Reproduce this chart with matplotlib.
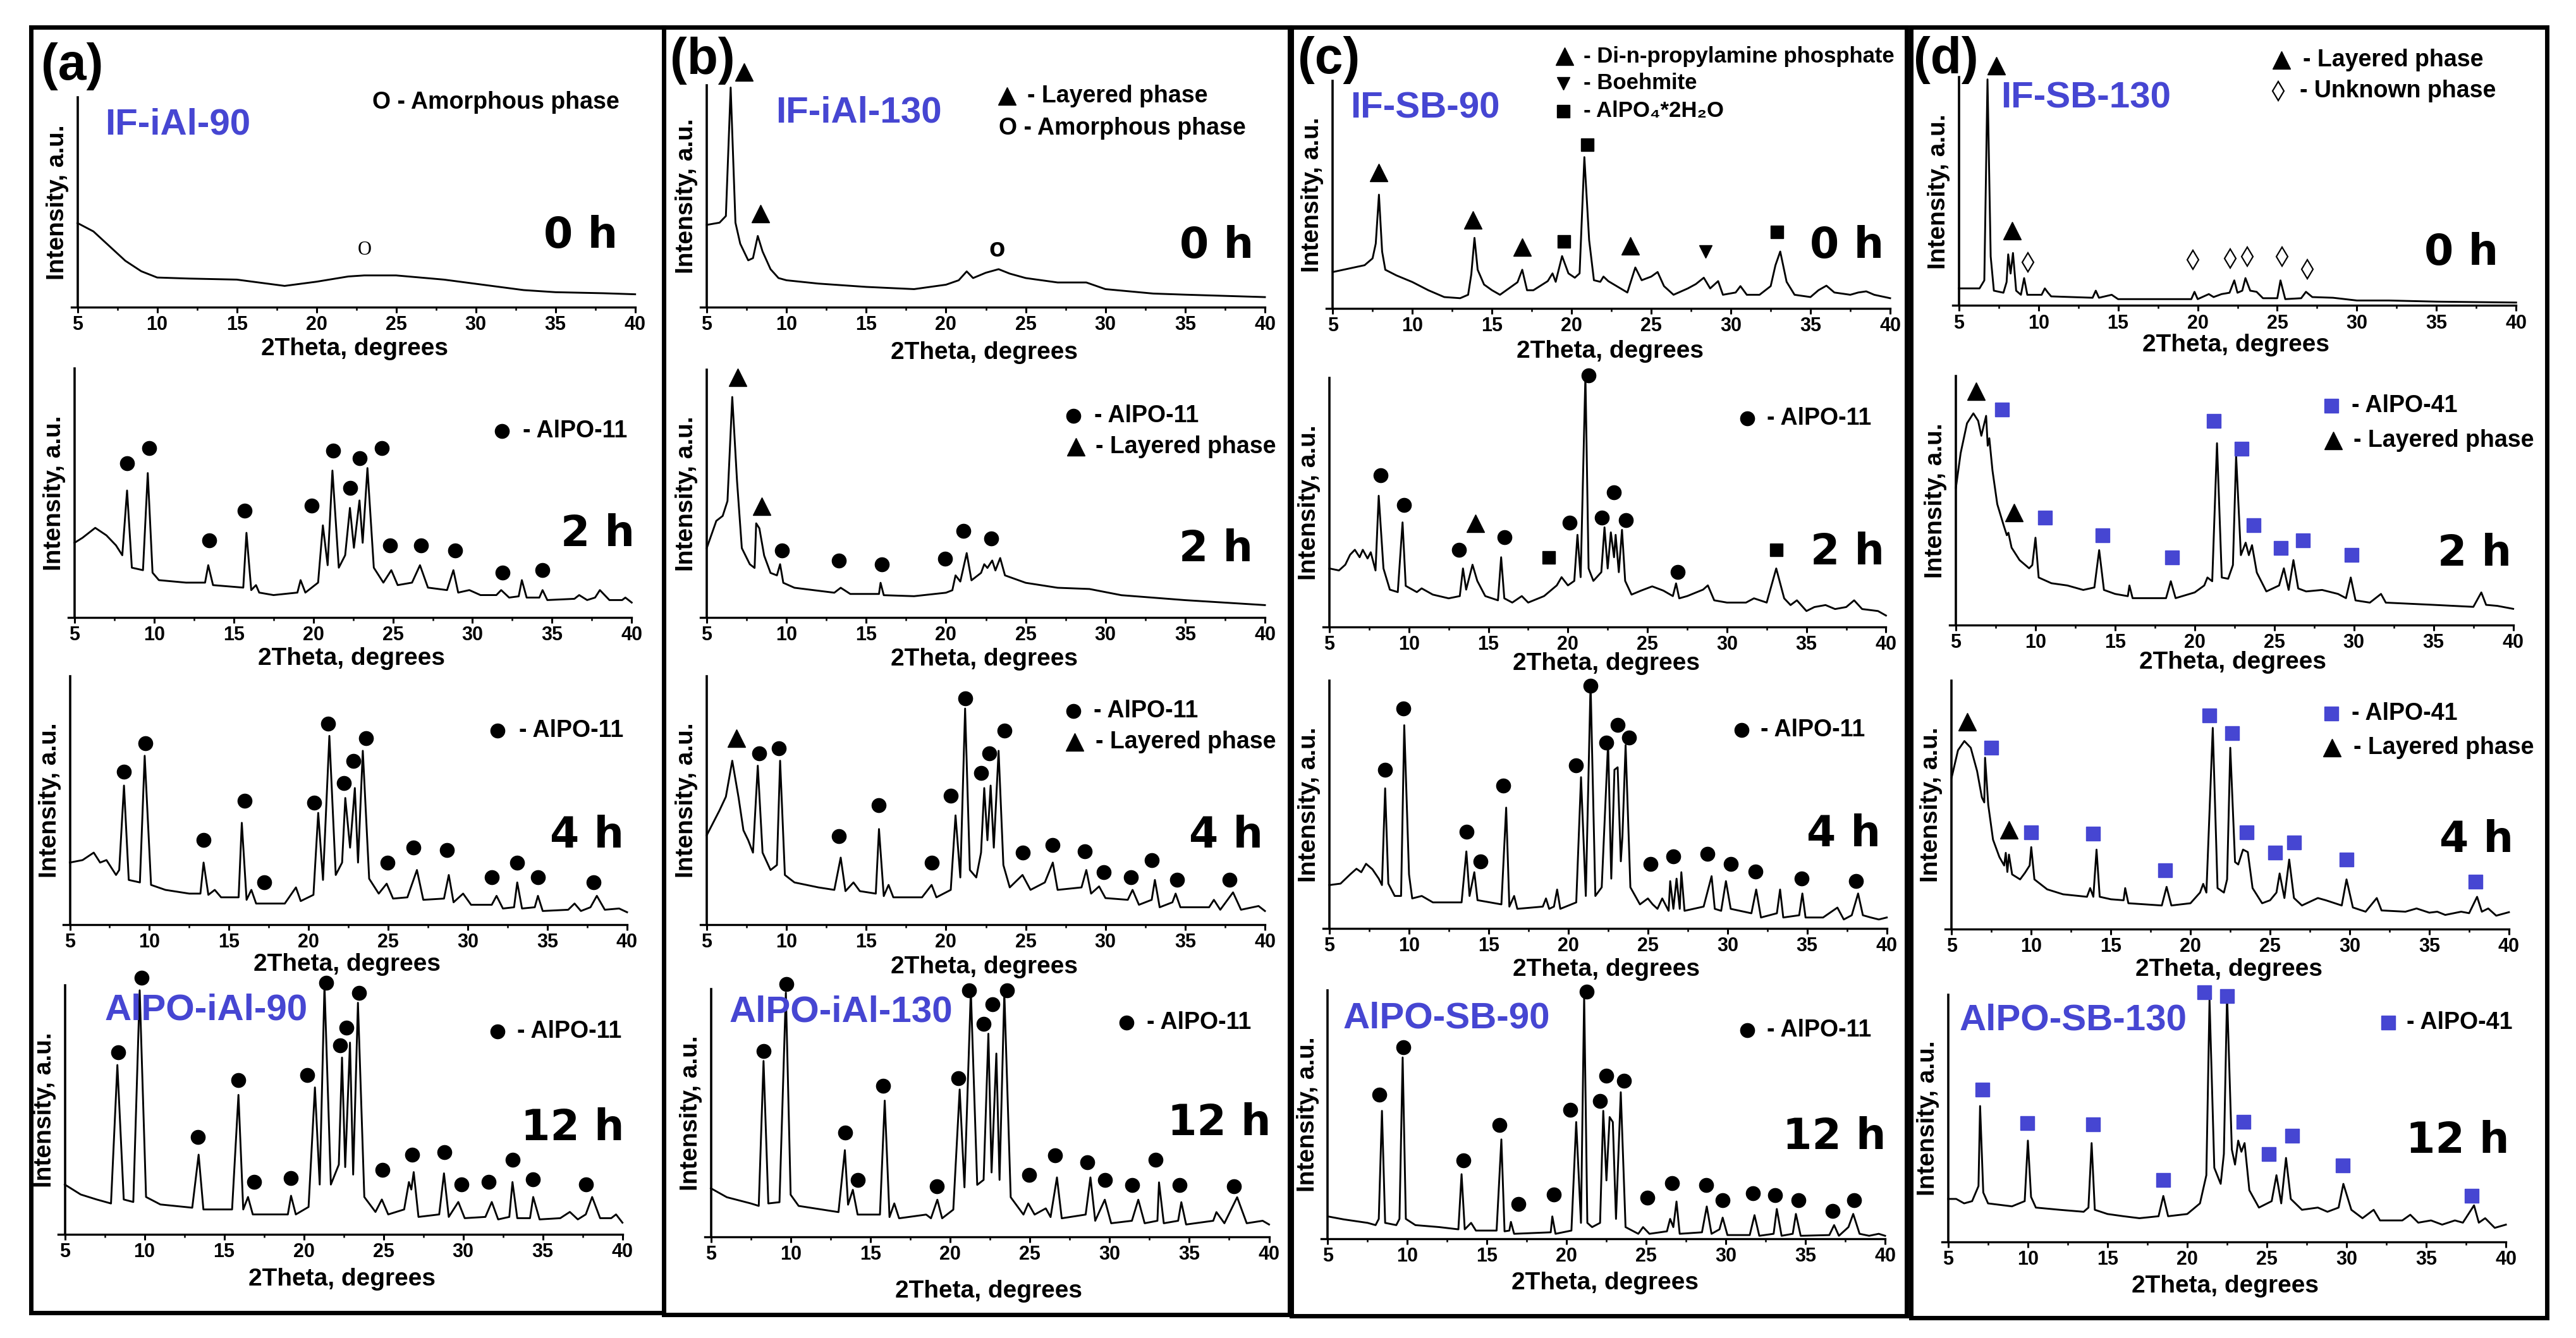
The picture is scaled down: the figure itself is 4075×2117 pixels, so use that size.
import numpy as np
import matplotlib
matplotlib.use("Agg")
import matplotlib.pyplot as plt
from matplotlib.patches import Rectangle

# XRD patterns: (2theta, intensity in % of the axis height)
a0_curve = [(5, 40), (5.5, 38), (6, 36), (7, 29), (8, 22), (9, 17), (10, 14), (12, 13.5), (15, 13), (18, 10),
            (20, 12), (22, 14.5), (23, 15), (25, 15), (28, 13), (30, 11), (33, 8), (35, 7), (38, 6.5), (40, 6)]
a2_curve = [(5, 30), (5.5, 32), (6.3, 36), (7, 33), (7.6, 29), (8.0, 25), (8.3, 51), (8.6, 20), (9.3, 19), (9.6, 58),
            (9.9, 18), (10.3, 15), (12, 14), (13.2, 14), (13.4, 21), (13.7, 13), (15.6, 12), (15.8, 34), (16.1, 11),
            (16.4, 13), (16.6, 10), (17.5, 9), (19, 10), (19.2, 15), (19.5, 10), (20.3, 14), (20.6, 37), (20.9, 21),
            (21.2, 59), (21.6, 20), (22.0, 25), (22.3, 44), (22.55, 28), (22.9, 47), (23.1, 30), (23.4, 60),
            (23.8, 20), (24.4, 14), (24.9, 19), (25.3, 13), (26.2, 14), (26.7, 21), (27.2, 12), (28.4, 11),
            (28.8, 19), (29.1, 10), (29.8, 11), (30.5, 9), (31.5, 9), (31.8, 11), (32.3, 8), (32.9, 8.5), (33.1, 15),
            (33.4, 8), (34.2, 8), (34.4, 11), (34.7, 7), (36.4, 7.5), (36.7, 9), (37.2, 7), (37.7, 8), (38, 11),
            (38.6, 7), (39.4, 7), (39.6, 8), (40, 6)]
a4_curve = [(5, 25), (5.8, 26), (6.5, 29), (6.9, 25), (7.3, 26), (7.9, 20), (8.1, 22), (8.4, 56), (8.7, 18), (9.4, 17),
            (9.7, 68), (10.1, 16), (11, 14), (12.5, 12.5), (13.2, 12.5), (13.4, 25), (13.7, 12), (14.1, 14),
            (14.5, 11), (15.6, 11), (15.8, 41), (16.1, 10), (16.4, 14), (16.7, 8.5), (18.5, 8.5), (19.2, 15),
            (19.5, 9.5), (20.3, 12), (20.6, 45), (20.9, 18), (21.3, 76), (21.7, 20), (22.1, 25), (22.3, 51),
            (22.6, 31), (22.9, 55), (23.1, 25), (23.4, 70), (23.8, 18.5), (24.4, 12.5), (24.9, 16.5), (25.3, 10.5),
            (26.2, 11), (26.8, 22), (27.2, 10), (28.5, 10.5), (28.8, 20), (29.1, 9), (29.7, 12.5), (30.2, 8),
            (31.5, 8), (31.8, 11.6), (32.2, 6.5), (32.9, 7), (33.1, 17), (33.4, 6.5), (34.2, 7), (34.4, 11.6),
            (34.7, 5.5), (36.3, 6), (36.7, 8.5), (37.1, 5.5), (37.7, 7), (38.1, 11.6), (38.6, 6), (39.5, 6.5), (40, 5)]
a12_curve = [(5, 20), (6, 16), (7, 14), (7.9, 12.4), (8.3, 68), (8.7, 14), (9.3, 13), (9.7, 98), (10.1, 15), (11, 12),
             (13, 10.7), (13.4, 32), (13.7, 10), (15.5, 10), (15.9, 56), (16.2, 10), (16.5, 15), (16.8, 8), (19, 8),
             (19.2, 15.5), (19.5, 8), (20.3, 11), (20.7, 59), (21, 20), (21.3, 100), (21.7, 20), (22.2, 28),
             (22.4, 71), (22.6, 27), (22.9, 77), (23.1, 24), (23.4, 93), (23.8, 15), (24.5, 9), (24.9, 14), (25.3, 8),
             (26.3, 10), (26.6, 21), (26.75, 18), (26.9, 25), (27.2, 7), (28.5, 8), (28.8, 24.5), (29.1, 7),
             (29.7, 13), (30.1, 6.5), (31.4, 7), (31.8, 13), (32.2, 6), (32.9, 7), (33.1, 21), (33.4, 6.5),
             (34.2, 6.5), (34.4, 15), (34.8, 6), (36.1, 6.5), (36.7, 9), (37.2, 6), (37.7, 8), (38.1, 15), (38.6, 6.5),
             (39.3, 6.5), (39.6, 8), (40, 4.7)]

b0_curve = [(5, 37), (5.8, 38), (6.2, 41), (6.5, 99), (6.8, 38), (7.1, 28.5), (7.6, 21), (7.9, 22), (8.2, 32),
            (8.5, 25), (9, 17), (9.5, 13), (10, 12), (12, 10.5), (15, 9), (18, 8), (20, 10), (20.8, 12), (21.3, 16),
            (21.7, 13), (22.5, 15.4), (23.3, 17), (24, 15), (25, 13), (27, 11), (28.8, 11), (30, 8), (33, 6),
            (35, 5.5), (40, 4.4)]
b2_curve = [(5, 28), (5.6, 39), (6, 41), (6.3, 47), (6.6, 89), (6.9, 55), (7.2, 28), (7.7, 21.5), (8.0, 20), (8.1, 38),
            (8.3, 36), (8.6, 25), (9, 18), (9.4, 17), (9.6, 21.5), (9.8, 14), (10.5, 12), (13, 10), (13.4, 12),
            (14, 9.5), (15.8, 9.5), (15.9, 14), (16.1, 9), (18, 8.6), (20, 10), (20.4, 11), (20.6, 17), (20.9, 14.5),
            (21.3, 26), (21.6, 15), (22.2, 18), (22.4, 21.5), (22.6, 20), (22.9, 23), (23.1, 19), (23.4, 24),
            (23.7, 17), (25, 14), (27, 12), (29, 11.5), (31, 9), (35, 7), (40, 5)]
b4_curve = [(5, 36), (5.8, 46), (6.2, 51.5), (6.6, 66), (7, 51), (7.3, 38), (7.6, 34), (7.9, 29), (8.2, 64), (8.5, 29),
            (9, 22), (9.4, 24), (9.6, 66), (9.9, 20), (10.5, 17), (12, 15), (13, 14), (13.4, 27), (13.7, 13.5),
            (14.2, 17), (14.6, 13.5), (15.6, 12.5), (15.8, 38.5), (16.1, 11.5), (16.4, 16), (16.7, 11), (18.5, 11),
            (19.1, 16), (19.4, 11), (20.3, 14), (20.6, 44), (20.9, 19), (21.2, 87), (21.5, 22), (21.9, 19),
            (22.2, 29), (22.4, 55), (22.6, 34), (22.8, 56), (23.0, 31), (23.3, 70), (23.6, 24), (24, 15), (24.8, 20),
            (25.3, 14), (26.2, 17), (26.7, 25), (27, 14), (28.5, 15), (28.8, 22), (29.1, 12.5), (29.6, 15.4),
            (30, 10.7), (31.4, 10), (31.7, 14), (32.1, 8), (32.9, 10), (33.1, 18), (33.4, 7), (34.2, 9), (34.4, 12.5),
            (34.7, 7), (36.5, 7), (36.8, 10), (37.2, 6), (38, 13), (38.5, 6), (39.6, 7.5), (40, 5.5)]
b12_curve = [(5, 19.6), (6, 16), (7.5, 13.5), (8.0, 12.5), (8.3, 71), (8.6, 13.5), (9.3, 14), (9.7, 98.6), (10.0, 17),
             (10.5, 12.5), (13, 10), (13.4, 35), (13.6, 13), (13.9, 19), (14.2, 9), (15.6, 9), (15.9, 55), (16.2, 8),
             (16.5, 13.5), (16.8, 7.5), (18.5, 9), (18.8, 7.5), (19.2, 15), (19.5, 7.5), (20.2, 11), (20.6, 59.5),
             (20.9, 20), (21.3, 99.5), (21.7, 21), (22.1, 23), (22.4, 82), (22.6, 26), (22.9, 74), (23.1, 23),
             (23.4, 98.6), (23.8, 16), (24.6, 9), (24.9, 13.5), (25.3, 9), (26, 11.5), (26.3, 8), (26.7, 24),
             (27, 7.5), (28.5, 9), (28.8, 24), (29.1, 6.5), (29.7, 15), (30.1, 5.5), (31.4, 6.5), (31.8, 15),
             (32.2, 5.5), (33.0, 6.5), (33.1, 22), (33.4, 5.5), (34.3, 6.5), (34.5, 14), (34.8, 5), (36.5, 6.5),
             (36.7, 10), (37.2, 5.5), (38, 16), (38.6, 5.5), (39.6, 6.5), (40, 5)]

c0_curve = [(5, 16), (6, 17.5), (7, 19), (7.5, 22), (7.7, 28.5), (7.9, 50), (8.1, 25), (8.3, 17), (9, 14.5), (10, 11.6),
            (11, 8), (12, 5), (13, 4.5), (13.5, 6), (13.7, 15), (13.9, 31), (14.1, 17), (14.5, 10.5), (15, 8),
            (15.5, 6), (16.3, 10), (16.6, 11.5), (16.9, 17), (17.2, 8), (17.6, 8), (18.5, 12), (18.8, 15.4),
            (19, 11.7), (19.4, 23), (19.8, 15.4), (20.2, 13.5), (20.5, 15.4), (20.8, 66.5), (21.1, 30), (21.4, 12.4),
            (21.8, 11.7), (22, 14), (22.3, 12), (23.5, 7), (24, 18), (24.4, 12.4), (25, 14), (25.4, 16), (25.8, 9.8),
            (26.4, 6), (27.3, 8.8), (27.8, 10.7), (28.3, 13.5), (28.7, 8.8), (29.2, 12), (29.5, 6), (30.3, 7),
            (30.6, 9.8), (31, 6), (31.8, 6), (32.5, 9.8), (32.8, 19), (33.1, 25), (33.5, 11.7), (34, 6), (35, 5),
            (35.5, 8), (36, 10), (36.5, 7), (37.5, 6), (38, 7), (38.5, 7.5), (39, 6), (40, 4.5)]
c2_curve = [(5, 23.5), (5.6, 22.7), (6, 25), (6.3, 29), (6.6, 31), (6.9, 28), (7.1, 31), (7.4, 27.5), (7.6, 30),
            (7.9, 22.7), (8.1, 52.7), (8.4, 23.5), (8.8, 15), (9.3, 14), (9.6, 42), (9.8, 16.5), (10.5, 14),
            (10.8, 15.5), (11.5, 13), (12.5, 11.5), (13.2, 12.4), (13.4, 23.5), (13.6, 15), (14.0, 25), (14.3, 18.5),
            (14.8, 12.4), (15.6, 10.7), (15.8, 28), (16.0, 11.5), (16.5, 9.8), (17.1, 12.4), (17.5, 9.8), (18.5, 12.4),
            (19.3, 16.7), (19.6, 20), (20, 16.7), (20.4, 18.5), (20.6, 37), (20.8, 20), (21.1, 101), (21.3, 23.5),
            (21.6, 18.5), (22.1, 22), (22.3, 40), (22.5, 23.5), (22.7, 38), (22.9, 28), (23.0, 37), (23.2, 22),
            (23.4, 39), (23.6, 18.5), (24, 13), (24.6, 14.6), (25.3, 16.3), (26, 14.6), (26.6, 12.4), (26.8, 17.5),
            (27, 11.5), (27.5, 12.4), (28.5, 15), (28.8, 16.7), (29.2, 10.7), (30, 9.8), (31.2, 9.8), (31.7, 11.5),
            (32.5, 9.8), (33.1, 23.5), (33.6, 11.5), (34, 8.8), (34.4, 10.7), (35, 6.4), (35.5, 8), (36.2, 8.8),
            (36.8, 7.2), (37.5, 8), (38, 10.7), (38.5, 7.2), (39.5, 6.4), (40, 4.6)]
c4_curve = [(5, 17.4), (5.7, 18), (6.3, 21.7), (6.7, 24), (7, 22.6), (7.3, 26), (7.7, 23.8), (8.1, 20), (8.3, 17.4),
            (8.5, 56.5), (8.7, 18), (9.1, 13), (9.5, 13), (9.7, 82), (10.0, 21.7), (10.2, 12), (10.8, 13),
            (11.5, 10.4), (13.3, 10.4), (13.6, 31), (13.8, 13), (14.1, 22.6), (14.3, 11.3), (15.8, 9.6), (16.1, 48.7),
            (16.3, 8.7), (16.6, 13), (16.8, 7.8), (18.4, 8.7), (18.6, 12), (18.8, 7.8), (19.1, 8.7), (19.3, 15.6),
            (19.5, 7.8), (20.5, 10.4), (20.8, 61), (21.1, 13), (21.4, 99), (21.7, 13), (22.1, 16.5), (22.5, 75),
            (22.7, 20), (22.9, 64), (23.1, 65), (23.3, 27), (23.4, 37), (23.6, 74), (23.9, 16.5), (24.5, 9.6),
            (25, 12), (25.3, 9.6), (25.6, 7.8), (25.9, 12), (26.3, 7), (26.4, 19), (26.6, 7.8), (26.8, 20),
            (27, 7.8), (27.1, 22.6), (27.3, 7), (28.5, 8.7), (29, 21), (29.2, 7.8), (29.6, 7), (29.9, 19),
            (30.2, 7.8), (31.5, 6), (31.8, 15.6), (32.1, 4.3), (33.1, 6), (33.3, 15.6), (33.5, 4.3), (34.5, 5.2),
            (34.7, 14), (34.9, 4.3), (36, 4.3), (36.9, 8.3), (37.3, 3.5), (37.8, 5.2), (38.2, 14), (38.5, 5.2),
            (39, 4.3), (39.5, 3.5), (40, 4.3)]
c12_curve = [(5, 9), (6, 7.8), (7.5, 6.4), (8, 5.5), (8.2, 8), (8.4, 51.5), (8.6, 6.4), (9.3, 5.5), (9.5, 8),
             (9.7, 73), (9.9, 8), (10.5, 5.5), (12, 4.7), (13.2, 3.8), (13.4, 26), (13.6, 3.8), (14, 6.4), (14.3, 3.3),
             (15.6, 3.3), (15.9, 40), (16.1, 3), (16.4, 3.3), (16.5, 6.8), (16.7, 2), (19, 2.6), (19.1, 9), (19.3, 2),
             (20.3, 3.3), (20.6, 47), (20.9, 6.4), (21.1, 98), (21.3, 6.4), (21.6, 4.7), (22.1, 6.4), (22.3, 51.5),
             (22.5, 23.5), (22.7, 49), (22.9, 47), (23.1, 8), (23.4, 59), (23.7, 4.7), (24.5, 2), (24.8, 4.7),
             (25.2, 2), (26.3, 3), (26.5, 8), (26.7, 4.7), (26.9, 15), (27.1, 2), (28.5, 2.6), (28.8, 13), (29.1, 2),
             (29.6, 3.8), (29.8, 8.5), (30.1, 1.5), (31.5, 1.5), (31.8, 9.5), (32.1, 1.2), (33, 2), (33.2, 12),
             (33.5, 1.2), (34.2, 2), (34.4, 10), (34.7, 1.2), (36.5, 1.5), (36.8, 5.5), (37.1, 1.2), (37.7, 4.7),
             (38.0, 10), (38.4, 2), (39, 1.2), (39.6, 2), (40, 1.2)]

d0_curve = [(5, 7.5), (6.3, 7.5), (6.6, 11), (6.8, 99), (7.0, 21.5), (7.2, 6.5), (7.8, 5.6), (8.0, 10.3), (8.1, 22.4),
            (8.25, 14), (8.4, 23), (8.6, 6.5), (8.9, 4.7), (9.1, 12), (9.3, 4.7), (10.2, 4.7), (10.4, 7.5),
            (10.6, 5.6), (10.8, 4), (13.4, 3.4), (13.6, 6.5), (13.8, 3.4), (14.6, 4.7), (15, 2.8), (19.6, 2.8),
            (19.8, 6), (20, 2.8), (20.7, 5), (21, 3.7), (21.5, 5), (22, 5.6), (22.3, 11), (22.5, 5.6), (22.8, 6.5),
            (23.0, 12), (23.3, 6.5), (23.7, 6), (24.1, 3.2), (25, 3.2), (25.2, 11), (25.5, 2.8), (26.5, 3.2),
            (26.8, 6), (27.2, 3.7), (28.5, 3.4), (30, 2.2), (32, 2.2), (35, 1.7), (40, 1.3)]
d2_curve = [(5, 55), (5.3, 69), (5.7, 81), (6.1, 85), (6.4, 82), (6.6, 76), (6.9, 84), (7.0, 72), (7.1, 75), (7.3, 62),
            (7.6, 48.5), (8.0, 40), (8.2, 36), (8.3, 37), (8.5, 31), (9, 26), (9.6, 22.7), (9.8, 24), (10.0, 35),
            (10.2, 19), (11, 16.7), (12, 15.8), (13, 14), (13.7, 15), (14.0, 30), (14.3, 14), (15, 12.4), (15.8, 11.5),
            (15.9, 15.8), (16.1, 10.7), (18.2, 10.7), (18.5, 17.5), (18.8, 10.7), (20, 13), (20.6, 15.8), (20.8, 19),
            (21.1, 17.5), (21.4, 73), (21.7, 19), (22.1, 18.5), (22.4, 24), (22.6, 68), (22.9, 28), (23.2, 33),
            (23.4, 28), (23.6, 32), (23.9, 21), (24.5, 13.4), (25.3, 15.8), (25.6, 22.7), (25.9, 14), (26.2, 26),
            (26.5, 14.6), (27, 13.4), (28, 14), (29, 12.4), (29.5, 10.7), (29.8, 19), (30.1, 9.8), (31, 8.9),
            (31.7, 12.4), (32, 8.9), (35, 8), (37.5, 7.2), (38, 13), (38.3, 8), (39, 7.6), (40, 6.4)]
d4_curve = [(5, 61), (5.4, 72), (5.8, 75.7), (6.2, 73), (6.6, 63.6), (6.9, 53), (7.05, 51), (7.1, 69), (7.3, 50),
            (7.6, 36), (8, 29), (8.3, 25.6), (8.4, 30.7), (8.5, 23), (8.6, 30), (8.8, 22), (9.3, 20), (9.6, 22.6),
            (9.9, 25.6), (10, 33), (10.2, 20), (11, 16), (12, 14), (13.5, 13), (13.7, 16.5), (13.9, 13), (14.1, 32),
            (14.3, 13), (15, 12), (15.8, 11.6), (15.9, 16.5), (16.1, 10.4), (18.2, 9.5), (18.5, 17), (18.8, 9.5),
            (20, 10.4), (20.6, 14.7), (20.8, 18.2), (21, 14.7), (21.4, 81), (21.7, 16.5), (22.1, 14.7), (22.3, 20),
            (22.5, 73), (22.8, 27), (23, 26), (23.3, 32), (23.6, 31), (23.9, 16.5), (24.5, 10.4), (25, 11.6),
            (25.4, 14.7), (25.6, 22.4), (25.9, 12.5), (26.2, 28), (26.5, 12.5), (27, 9.5), (28, 12.5), (28.5, 11.6),
            (29.5, 9.5), (29.8, 20), (30.2, 8.7), (31, 7), (31.7, 12.5), (32, 7.5), (33.5, 7), (34.2, 8.3),
            (35, 6.6), (35.5, 7), (36, 5.7), (37, 7), (37.5, 6.4), (38, 13), (38.3, 7), (38.7, 8.3), (39.2, 5.4),
            (40, 6.8)]
d12_curve = [(5, 17.4), (5.5, 17.4), (6, 15.6), (6.5, 16.5), (6.9, 22.6), (7.0, 55), (7.2, 20), (7.5, 15.6), (9, 14.4),
             (9.8, 16.5), (10.0, 41), (10.2, 18.2), (10.5, 13.9), (12, 13), (13.5, 12.2), (13.8, 13.9), (14.0, 40),
             (14.2, 13), (15, 11.3), (16, 10.4), (17, 9.6), (18.2, 10.4), (18.5, 18.6), (18.8, 10.4), (20, 11.3),
             (20.8, 15.6), (21.2, 27), (21.4, 98), (21.7, 30), (22.1, 23.5), (22.3, 35.6), (22.5, 100), (22.8, 37.4),
             (23.0, 31.3), (23.2, 41), (23.4, 36.5), (23.6, 40), (23.9, 20.9), (24.5, 13.9), (25.3, 16.5), (25.6, 27),
             (25.9, 15.6), (26.2, 34), (26.5, 17.4), (27.2, 13), (28.2, 13.9), (28.8, 12.2), (29.5, 13.9),
             (29.8, 23.5), (30.3, 13), (31, 9.6), (31.7, 13), (32.1, 8.7), (33.5, 8.7), (34, 11.0), (34.5, 7.8),
             (35.3, 8.7), (36, 7), (36.8, 8.7), (37.3, 7.8), (38.0, 14.8), (38.3, 7.8), (38.7, 9.6), (39.3, 5.7),
             (40, 7)]

# phase marks above the peaks: (2theta, height %)
a0_amorph = [(23.0, 27)]
a2_alpo11 = [(8.3, 62), (9.7, 68), (13.46, 31), (15.7, 43), (19.9, 45), (21.25, 67), (22.3, 52), (22.9, 64),
             (24.3, 68), (24.8, 29), (26.75, 29), (28.9, 27), (31.9, 18), (34.4, 19)]
a4_alpo11 = [(8.4, 61.5), (9.76, 73), (13.4, 34), (15.96, 50), (17.2, 17), (20.35, 49), (21.2, 81), (22.2, 57),
             (22.8, 66), (23.6, 75), (24.95, 25), (26.57, 31), (28.7, 30), (31.5, 19), (33.1, 25), (34.4, 19),
             (37.9, 17)]
a12_alpo11 = [(8.37, 73), (9.84, 103), (13.34, 39), (15.9, 62), (16.88, 21), (19.19, 22.5), (20.2, 64), (21.4, 101),
              (22.27, 76), (22.67, 83), (23.47, 97), (24.93, 26), (26.8, 32), (28.84, 33), (29.9, 20), (31.6, 21),
              (33.1, 30), (34.4, 22), (37.7, 20)]
b0_layered = [(7.32, 106), (8.35, 42)]
b0_amorph = [(23.2, 25.7)]
b2_layered = [(6.93, 97), (8.43, 45)]
b2_alpo11 = [(9.72, 27), (13.3, 23), (15.96, 21.5), (19.96, 23.6), (21.1, 35), (22.85, 32)]
b4_layered = [(6.88, 75)]
b4_alpo11 = [(8.3, 69), (9.5, 71), (13.3, 35.5), (15.8, 48), (19.1, 25), (20.3, 52), (21.2, 91), (22.2, 61),
             (22.7, 69), (23.65, 78), (24.8, 29), (26.7, 32), (28.7, 29.5), (29.9, 21), (31.6, 19), (32.9, 26),
             (34.5, 18), (37.8, 18)]
b12_alpo11 = [(8.3, 75), (9.72, 102), (13.43, 42), (14.2, 23), (15.8, 61), (19.16, 20.5), (20.5, 64), (21.2, 99.5),
              (22.1, 86), (22.67, 94), (23.57, 99.5), (24.94, 25), (26.6, 33), (28.6, 30), (29.7, 23), (31.4, 21),
              (32.9, 31), (34.4, 21), (37.8, 20.5)]
c0_dipa = [(7.9, 59.6), (13.8, 39), (16.9, 27), (23.7, 27.6)]
c0_boehmite = [(28.4, 25)]
c0_hydrate = [(19.5, 29.5), (21.0, 72), (32.9, 33.6)]
c2_alpo11 = [(8.23, 61), (9.7, 49), (13.15, 31), (16.0, 36), (20.1, 42), (21.3, 101), (22.15, 44), (22.9, 54),
             (23.65, 43), (26.9, 22)]
c2_dipa = [(14.2, 41.6)]
c2_hydrate = [(18.8, 28), (33.1, 31)]
c4_alpo11 = [(8.49, 64), (9.65, 88.7), (13.6, 39), (14.5, 27), (15.9, 57.6), (20.5, 65.7), (21.4, 98), (22.4, 75),
             (23.1, 82), (23.8, 77), (25.15, 26), (26.6, 29), (28.74, 30), (30.2, 26), (31.76, 22.8), (34.66, 20),
             (38.07, 19)]
c12_alpo11 = [(8.25, 58), (9.73, 77), (13.5, 31.5), (15.77, 45.8), (16.99, 14), (19.18, 17.7), (20.24, 52),
              (21.25, 99.6), (22.08, 55.5), (22.5, 65.7), (23.6, 63.6), (25.07, 16.5), (26.6, 22.4), (28.77, 21.7),
              (29.8, 15.4), (31.7, 18.2), (33.1, 17.5), (34.55, 15.6), (36.7, 11.3), (38.07, 15.4)]
d0_layered = [(7.35, 105), (8.34, 32.7)]
d0_unknown = [(9.35, 19), (19.7, 20), (22.05, 20.6), (23.1, 21.5), (25.3, 21.5), (26.9, 16)]
d2_layered = [(6.28, 94), (8.66, 45)]
d2_alpo41 = [(7.89, 86.6), (10.6, 43), (14.2, 36), (18.57, 27), (21.2, 82), (22.95, 70.8), (23.7, 39.9), (25.4, 31),
             (26.8, 34), (29.85, 28)]
d4_layered = [(5.99, 83.5), (8.6, 40)]
d4_alpo41 = [(7.48, 73), (10.0, 39), (13.87, 38.5), (18.4, 23.7), (21.2, 86), (22.6, 79), (23.54, 39), (25.3, 30.7),
             (26.5, 34.8), (29.8, 28), (37.9, 19)]
d12_alpo41 = [(7.16, 61.7), (9.97, 48), (14.1, 47.5), (18.48, 25), (21.07, 101), (22.5, 99.5), (23.55, 48.7),
              (25.13, 35.6), (26.6, 43), (29.77, 31), (37.86, 18.6)]

hours = ["0 h", "2 h", "4 h", "12 h"]
panel_letters = ["(a)", "(b)", "(c)", "(d)"]
sample_names = {"a0": "IF-iAl-90", "a12": "AlPO-iAl-90", "b0": "IF-iAl-130", "b12": "AlPO-iAl-130",
                "c0": "IF-SB-90", "c12": "AlPO-SB-90", "d0": "IF-SB-130", "d12": "AlPO-SB-130"}

# ---------------- layout ----------------
W, H = 4075, 2117
BLUE = "#4646d2"
ARIAL = ["Liberation Sans", "DejaVu Sans"]
plt.rcParams["font.family"] = ARIAL
plt.rcParams["font.weight"] = "bold"

marker_style = {
    "dot": dict(marker="o", ms=16, color="black"),
    "tri": dict(marker="^", ms=20, color="black"),
    "vtri": dict(marker="v", ms=15, color="black"),
    "sq": dict(marker="s", ms=14, color="black"),
    "bsq": dict(marker="s", ms=16, color=BLUE),
    "dia": dict(marker="d", ms=15, mfc="white", mec="black", mew=1.6),
}

subplots = {
    "a0": (a0_curve, []), "a2": (a2_curve, [("dot", a2_alpo11)]),
    "a4": (a4_curve, [("dot", a4_alpo11)]), "a12": (a12_curve, [("dot", a12_alpo11)]),
    "b0": (b0_curve, [("tri", b0_layered)]),
    "b2": (b2_curve, [("tri", b2_layered), ("dot", b2_alpo11)]),
    "b4": (b4_curve, [("tri", b4_layered), ("dot", b4_alpo11)]),
    "b12": (b12_curve, [("dot", b12_alpo11)]),
    "c0": (c0_curve, [("tri", c0_dipa), ("vtri", c0_boehmite), ("sq", c0_hydrate)]),
    "c2": (c2_curve, [("dot", c2_alpo11), ("tri", c2_dipa), ("sq", c2_hydrate)]),
    "c4": (c4_curve, [("dot", c4_alpo11)]), "c12": (c12_curve, [("dot", c12_alpo11)]),
    "d0": (d0_curve, [("tri", d0_layered), ("dia", d0_unknown)]),
    "d2": (d2_curve, [("tri", d2_layered), ("bsq", d2_alpo41)]),
    "d4": (d4_curve, [("tri", d4_layered), ("bsq", d4_alpo41)]),
    "d12": (d12_curve, [("bsq", d12_alpo41)]),
}

# pixel frame of each axes: x=5, x=40, top (100 %), bottom (0 %)
frames = {
    "a0": (122.6, 1004.7, 154, 485.5), "a2": (117.9, 999.3, 583, 977),
    "a4": (110.5, 992, 1070, 1463), "a12": (102.5, 984.6, 1559, 1953),
    "b0": (1118, 2001, 135, 485.5), "b2": (1118, 2001, 585, 977),
    "b4": (1118, 2001, 1070, 1463), "b12": (1124.6, 2007.5, 1565, 1957),
    "c0": (2108.3, 2990, 128, 488), "c2": (2103, 2983.4, 598, 992),
    "c4": (2103, 2984.7, 1077, 1468.5), "c12": (2100.5, 2982, 1567, 1960),
    "d0": (3098.7, 3980.3, 122, 483.4), "d2": (3094, 3975.6, 595, 988.5),
    "d4": (3087.3, 3968.9, 1077, 1470), "d12": (3081.9, 3964.1, 1574, 1965),
}
xlab_off = {"a0": 67, "a2": 65, "a4": 63, "a12": 71, "b0": 72, "b2": 66, "b4": 67, "b12": 86,
            "c0": 68, "c2": 58, "c4": 66, "c12": 70, "d0": 63, "d2": 60, "d4": 64, "d12": 70}
hour_pos = {"a0": (38.9, 34), "a2": (40.2, 33.4), "a4": (39.8, 36), "a12": (40.1, 42.7),
            "b0": (39.3, 27.6), "b2": (39.25, 27.6), "b4": (39.9, 36), "b12": (40.1, 46),
            "c0": (39.6, 27.6), "c2": (39.9, 30), "c4": (39.6, 38), "c12": (40.05, 41),
            "d0": (38.9, 23), "d2": (39.9, 28.7), "d4": (40.3, 36), "d12": (40.2, 41)}
name_pos = {"a0": (6.73, 87), "a12": (7.52, 90), "b0": (9.33, 87.5), "b12": (6.16, 90.8),
            "c0": (6.1, 87.8), "c12": (5.96, 88.7), "d0": (7.62, 90.7), "d12": (5.69, 89.6)}
# legend rows: (marker kind or None, marker x, y %, text x, text)
legends = {
    "a0": [(None, None, 97.5, 23.5, "O - Amorphous phase")],
    "a2": [("dot", 31.84, 75, 33.16, "- AlPO-11")],
    "a4": [("dot", 31.86, 78, 33.2, "- AlPO-11")],
    "a12": [("dot", 32.16, 81.5, 33.4, "- AlPO-11")],
    "b0": [("tri", 23.83, 95.2, 25.1, "- Layered phase"), (None, None, 80.7, 23.3, "O - Amorphous phase")],
    "b2": [("dot", 28.0, 81.4, 29.3, "- AlPO-11"), ("tri", 28.16, 69, 29.37, "- Layered phase")],
    "b4": [("dot", 28.0, 86, 29.25, "- AlPO-11"), ("tri", 28.08, 73.5, 29.37, "- Layered phase")],
    "b12": [("dot", 31.05, 86.5, 32.34, "- AlPO-11")],
    "c0": [("tri", 19.54, 110.7, 20.76, "- Di-n-propylamine phosphate"),
           ("vtri", 19.47, 99, 20.76, "- Boehmite"),
           ("sq", 19.47, 86.8, 20.76, "- AlPO\u2084*2H\u2082O")],
    "c2": [("dot", 31.28, 83.7, 32.5, "- AlPO-11")],
    "c4": [("dot", 30.9, 80, 32.07, "- AlPO-11")],
    "c12": [("dot", 31.35, 84, 32.56, "- AlPO-11")],
    "d0": [("tri", 25.25, 107.5, 26.59, "- Layered phase"), ("dia", 25.06, 93.8, 26.4, "- Unknown phase")],
    "d2": [("bsq", 28.59, 88, 29.85, "- AlPO-41"), ("tri", 28.72, 74.2, 29.98, "- Layered phase")],
    "d4": [("bsq", 28.83, 86.7, 30.11, "- AlPO-41"), ("tri", 28.9, 73, 30.25, "- Layered phase")],
    "d12": [("bsq", 32.6, 88.7, 33.78, "- AlPO-41")],
}
boxes = [(49, 1050, 43, 2077), (1050, 2040, 43, 2080), (2043, 3016, 43, 2082), (3023, 4029, 43, 2085)]
letter_pos = [(65, 105), (1060, 96), (2053, 95), (3027, 95)]

fig = plt.figure(figsize=(W / 100, H / 100), dpi=100)
fig.patch.set_facecolor("white")

for key, (curve, marks) in subplots.items():
    x5, x40, top, bottom = frames[key]
    per = (x40 - x5) / 35.0
    left = x5 - 0.4 * per
    ax = fig.add_axes([left / W, 1 - bottom / H, (x40 - left) / W, (bottom - top) / H])
    ax.set_xlim(4.6, 40)
    ax.set_ylim(0, 100)
    ax.patch.set_alpha(0)
    for s in ("top", "right"):
        ax.spines[s].set_visible(False)
    ax.spines["left"].set_position(("data", 5))
    ax.spines["left"].set_linewidth(2.6)
    ax.spines["bottom"].set_linewidth(2.4)
    ax.set_yticks([])
    ax.set_xticks(range(5, 41, 5))
    ax.set_xticks(np.arange(7.5, 40, 5), minor=True)
    ax.tick_params(axis="x", which="major", direction="out", length=6.5, width=2.2, labelsize=22, pad=3)
    ax.tick_params(axis="x", which="minor", direction="out", length=3.8, width=1.8)

    xs, ys = zip(*curve)
    ax.plot(xs, ys, color="black", lw=2.1, clip_on=False)

    for kind, pts in marks:
        mx, my = zip(*pts)
        ax.plot(mx, my, ls="none", clip_on=False, **marker_style[kind])

    xl = ax.set_xlabel("2Theta, degrees", fontsize=28, fontweight="bold")
    ax.xaxis.set_label_coords((22.4 - 4.6) / 35.4, -xlab_off[key] / (bottom - top))
    xl.set_verticalalignment("center")
    ax.set_ylabel("Intensity, a.u.", fontsize=28, fontweight="bold", labelpad=10)

    hx, hy = hour_pos[key]
    ax.text(hx, hy, hours[["0", "2", "4", "12"].index(key[1:])], ha="right", va="center",
            fontsize=48, fontweight="bold", family=["DejaVu Sans"], clip_on=False)

    if key in sample_names:
        nx, ny = name_pos[key]
        ax.text(nx, ny, sample_names[key], ha="left", va="center", fontsize=42,
                fontweight="bold", color=BLUE, clip_on=False)

    fs = 25 if key == "c0" else 27
    for kind, mx, my, tx, txt in legends[key]:
        if kind is not None:
            ax.plot([mx], [my], ls="none", clip_on=False, **marker_style[kind])
        ax.text(tx, my, txt, ha="left", va="center", fontsize=fs, fontweight="bold", clip_on=False)

    if key == "a0":
        ax.text(a0_amorph[0][0], a0_amorph[0][1], "O", ha="center", va="center", fontsize=22,
                fontweight="normal", family=["Liberation Serif"])
    if key == "b0":
        ax.text(b0_amorph[0][0], b0_amorph[0][1], "o", ha="center", va="center", fontsize=30,
                fontweight="bold")

for (x0, x1, y0, y1) in boxes:
    fig.patches.append(Rectangle((x0 / W, 1 - y1 / H), (x1 - x0) / W, (y1 - y0) / H,
                                 transform=fig.transFigure, fill=False, lw=5, ec="black"))

for (lx, ly), lab in zip(letter_pos, panel_letters):
    fig.text(lx / W, 1 - ly / H, lab, ha="left", va="center", fontsize=58, fontweight="bold")

fig.savefig("out.png", dpi=100, facecolor="white")
